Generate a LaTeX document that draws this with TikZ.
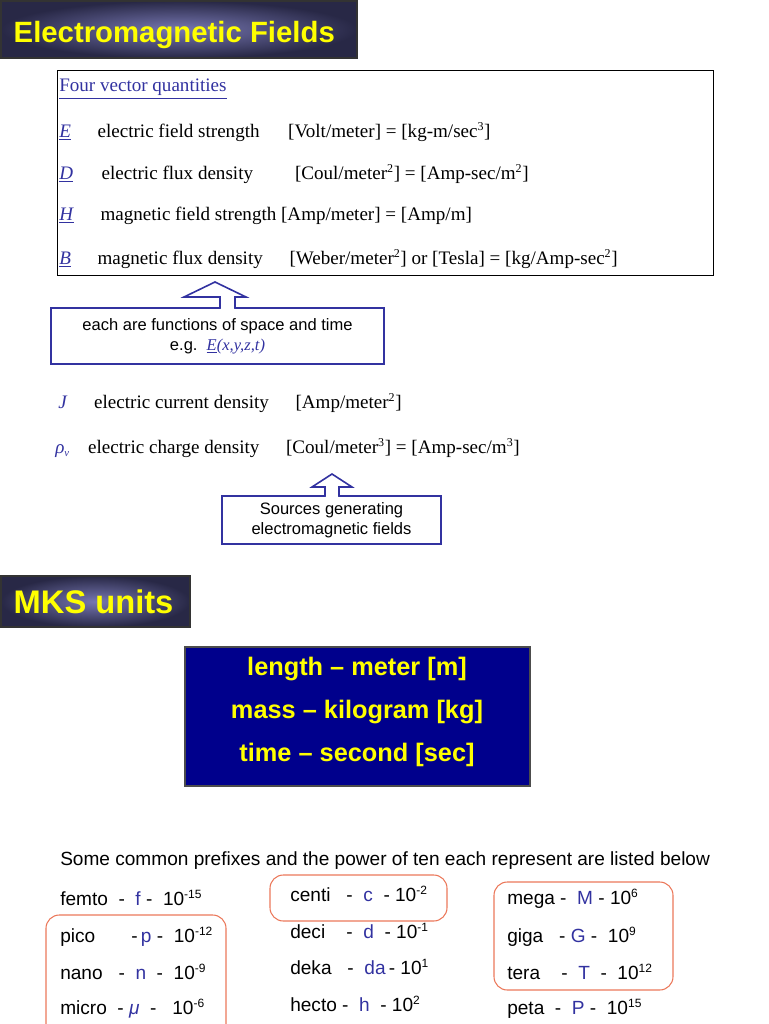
\documentclass[tikz,border=0pt]{standalone}
\usepackage{fontspec}
\setmainfont{Liberation Serif}
\setsansfont{Liberation Sans}
\usetikzlibrary{calc}
\definecolor{ttlbg}{RGB}{40,40,70}
\definecolor{ttly}{RGB}{255,255,0}
\definecolor{bl}{RGB}{50,50,160}
\definecolor{navy}{RGB}{0,0,140}
\definecolor{orng}{RGB}{235,120,90}
\tikzset{
 title/.style={draw=black!80,line width=1pt,inner color=ttlbg!70!blue!60,outer color=ttlbg,anchor=west},
 ser/.style={anchor=west,inner sep=0,font=\fontsize{14.3}{16}\selectfont},
 sa/.style={anchor=west,inner sep=0,font=\sffamily\fontsize{14.3}{16}\selectfont},
 note/.style={draw=bl,line width=1.2pt,font=\sffamily\fontsize{12.4}{15}\selectfont,align=center},
 harrow/.style={draw=bl,line width=1.2pt,fill=white},
 orbox/.style={draw=orng,line width=0.8pt,rounded corners=10pt},
 mks/.style={text=ttly,font=\sffamily\bfseries\fontsize{19}{21}\selectfont},
}
\newcommand{\vq}[1]{\textcolor{bl}{\underline{\textit{#1}}}}
\newcommand{\pw}[1]{\textsuperscript{\fontsize{9}{9}\selectfont #1}}
\begin{document}
\begin{tikzpicture}[x=0.75pt,y=-0.75pt]
\useasboundingbox (0,0) rectangle (768,1024);
% title
\path[title] (1,1) rectangle (357,58);
\node[anchor=west,text=ttly,font=\sffamily\bfseries\fontsize{22}{24}\selectfont] (t1) at (9,35) {Electromagnetic Fields};
% box
\draw[black,line width=0.7pt] (57,70) rectangle (713,275);
\node[ser,text=bl] (h) at (59,89) {\underline{Four vector quantities}};
\node[ser] (e) at (59,132) {\vq{E}\hspace{1.4em}electric field strength\hspace{1.5em}[Volt/meter] = [kg-m/sec\pw{3}]};
\node[ser] (d) at (59,174) {\vq{D}\hspace{1.5em}electric flux density\hspace{2.2em}[Coul/meter\pw{2}] = [Amp-sec/m\pw{2}]};
\node[ser] (hh) at (59,216) {\vq{H}\hspace{1.4em}magnetic field strength [Amp/meter] = [Amp/m]};
\node[ser] (b) at (59,259) {\vq{B}\hspace{1.4em}magnetic flux density\hspace{1.4em}[Weber/meter\pw{2}] or [Tesla] = [kg/Amp-sec\pw{2}]};
% arrow 1
\node[note,minimum width=333*0.75pt,minimum height=56*0.75pt] (n1) at (217.5,336) {each are functions of space and time\\e.g.\ \ \textcolor{bl}{\textrm{\underline{\textit{E}}\textit{(x,y,z,t)}}}};
\path[harrow] (235,308) -- (235,297) -- (246,297) -- (215,282) -- (184,297) -- (220,297) -- (220,308);
\draw[white,line width=1.5pt] (221,308) -- (234,308);
% J rho
\node[ser] (j) at (58,403) {\textcolor{bl}{\textit{J}}\hspace{1.4em}electric current density\hspace{1.4em}[Amp/meter\pw{2}]};
\node[ser] (r) at (55,448) {\textcolor{bl}{\textit{ρ}\raisebox{-0.4ex}{\footnotesize\textit{v}}}\hspace{1em}electric charge density\hspace{1.4em}[Coul/meter\pw{3}] = [Amp-sec/m\pw{3}]};
% arrow 2
\node[note,minimum width=219*0.75pt,minimum height=48*0.75pt] (n2) at (331.5,520) {Sources generating\\electromagnetic fields};
\path[harrow] (339,496) -- (339,487) -- (352,487) -- (332,474) -- (312,487) -- (325,487) -- (325,496);
\draw[white,line width=1.5pt] (326,496) -- (338,496);
% MKS
\path[title] (1,576) rectangle (190,627);
\node[anchor=west,text=ttly,font=\sffamily\bfseries\fontsize{24.5}{26}\selectfont] (t2) at (9,602) {MKS units};
\path[fill=navy,draw=black!70,line width=0.8pt] (185,647) rectangle (530,786);
\node[mks] (m1) at (357,669) {length -- meter [m]};
\node[mks] (m2) at (357,712) {mass -- kilogram [kg]};
\node[mks] (m3) at (357,755) {time -- second [sec]};
% prefixes
\node[sa] (ph) at (60,861) {Some common prefixes and the power of ten each represent are listed below};
\draw[orbox] (46,1030) -- (46,915) -- (226,915) -- (226,1030);
\draw[orbox] (270,875) rectangle (447,921);
\draw[orbox] (494,882) rectangle (673,990);
\newcommand{\bs}[1]{\textcolor{bl}{#1}}
\node[sa] (p1) at (60,898) {femto\ \ -\ \ \bs{f}\ -\ \ 10\pw{-15}};
\node[sa] (p2) at (60,937) {pico\hspace{1.9em}-\,\bs{p}\ -\ \ 10\pw{-12}};
\node[sa] (p3) at (60,972) {nano\ \ \ -\ \ \bs{n}\ \ -\ \ 10\pw{-9}};
\node[sa] (p4) at (60,1009) {micro\ \ -\ \bs{\textit{μ}}\ \ -\ \ \ 10\pw{-6}};
\node[sa] (q1) at (290,894) {centi\ \ \ -\ \ \bs{c}\ \ -\ 10\pw{-2}};
\node[sa] (q2) at (290,931) {deci\ \ \ \ -\ \ \bs{d}\ \ -\ 10\pw{-1}};
\node[sa] (q3) at (290,967) {deka\ \ \ -\ \ \bs{da}\,-\ 10\pw{1}};
\node[sa] (q4) at (290,1004) {hecto\ -\ \ \bs{h}\ \ -\ 10\pw{2}};
\node[sa] (r1) at (507,899) {mega\ -\ \ \bs{M}\ -\ 10\pw{6}};
\node[sa] (r2) at (507,937) {giga\ \ \ -\ \bs{G}\ -\ \ 10\pw{9}};
\node[sa] (r3) at (507,972) {tera\ \ \ \ -\ \ \bs{T}\ \ -\ \ 10\pw{12}};
\node[sa] (r4) at (507,1009) {peta\ \ -\ \ \bs{P}\ -\ \ 10\pw{15}};
\end{tikzpicture}
\end{document}
